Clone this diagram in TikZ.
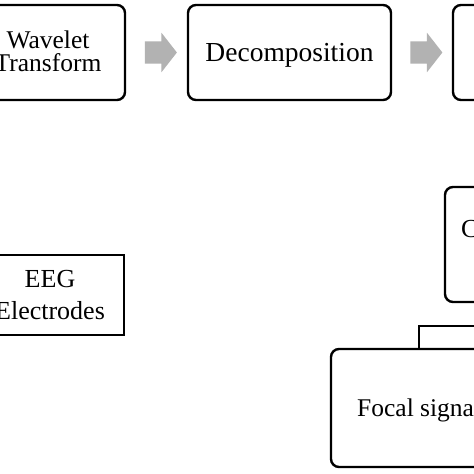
\documentclass[tikz,border=0pt]{standalone}
\usepackage{fontspec}
\setmainfont{Liberation Serif}
\usetikzlibrary{shapes.arrows,calc}
\tikzset{
  x=1pt,y=-1pt,
  frame/.style={draw=black,line width=2.4pt,fill=white,inner sep=0pt},
  rbox/.style={frame,rounded corners=8pt},
  sbox/.style={frame},
  lbl/.style={inner sep=0pt,align=center,font=\fontsize{25.5}{23}\selectfont},
  blockarrow/.style={single arrow,draw=none,fill=black!30,minimum height=32pt,
    minimum width=39pt,single arrow head extend=8.5pt,inner xsep=0pt,inner ysep=11pt,
    single arrow tip angle=104}
}
\begin{document}
\begin{tikzpicture}
\useasboundingbox (0,0) rectangle (474,474);
\clip (0,0) rectangle (474,474);
\fill[white] (0,0) rectangle (474,474);
% top row
\node[rbox,minimum width=152pt,minimum height=95pt] (w) at (49,52.5) {};
\node[lbl] (wt) at (48,51) {Wavelet\\Transform};
\node[rbox,minimum width=203pt,minimum height=95pt] (d) at (289.5,52.5) {};
\node[lbl,font=\fontsize{27.5}{30}\selectfont] (dt) at (289.5,55.7) {Decomposition};
\node[rbox,minimum width=147pt,minimum height=95pt] (t) at (526.5,52.5) {};
\node[blockarrow] (a1) at ($(w.east)!0.5!(d.west)$) {};
\node[blockarrow] (a2) at ($(d.east)!0.5!(t.west)$) {};
% EEG electrodes
\node[sbox,minimum width=148pt,minimum height=80pt] (e) at (50,295) {};
\node[lbl,font=\fontsize{26}{32}\selectfont] (et) at (50,295.5) {EEG\\Electrodes};
% C box
\node[rbox,minimum width=115pt,minimum height=115pt] (c) at (502.5,244.5) {};
\node[lbl,anchor=base west,font=\fontsize{26}{30}\selectfont] (ct) at (461,237) {C};
% small rectangle and focal box
\node[sbox,minimum width=141pt,minimum height=23pt] (s) at (489.5,337.5) {};
\node[rbox,minimum width=176pt,minimum height=118pt] (f) at (419,408) {};
\node[lbl,anchor=base west] (ft) at (357,416) {Focal signal};
\end{tikzpicture}
\end{document}
